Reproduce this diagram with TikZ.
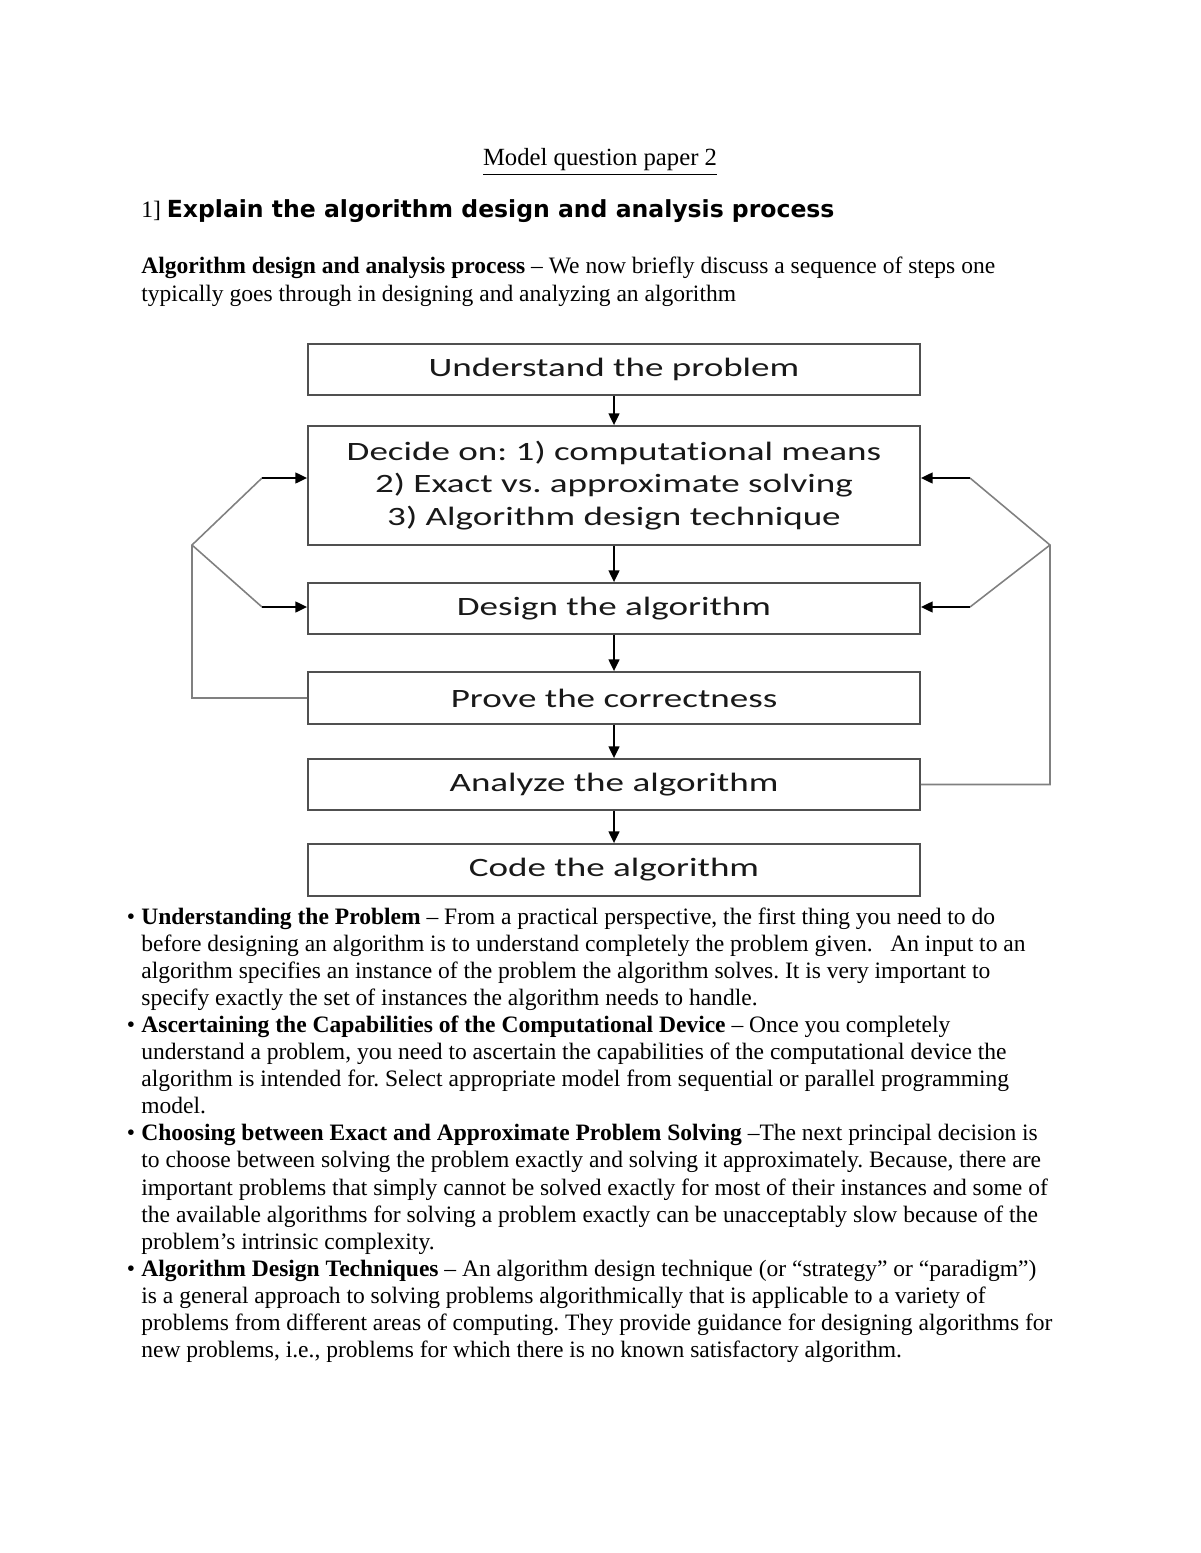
\documentclass[tikz,border=0pt]{standalone}
\usepackage{fontspec}
\setmainfont{Liberation Serif}
\newfontfamily\boxfont[FakeStretch=1.4,Ligatures=NoCommon]{Carlito}
\newfontfamily\headfont{DejaVu Sans}
\usetikzlibrary{arrows.meta}
\definecolor{boxgray}{HTML}{505050}
\newdimen\pxu \pxu=0.51pt
\frenchspacing

\begin{document}
\begin{tikzpicture}[x=0.51pt,y=-0.51pt,
  stepbox/.style={draw=boxgray, line width=0.9pt, minimum width=612\pxu, inner sep=0pt,
    font=\boxfont\fontsize{13.5pt}{16.6pt}\selectfont, text=black!90, align=center},
  flow/.style={line width=1pt, -{Triangle[length=6pt,width=5.5pt]}},
  loopline/.style={draw=gray, line width=0.8pt},
  body/.style={anchor=base west, inner sep=0pt, align=left, font=\fontsize{12pt}{13.82pt}\selectfont}]
\fill[white] (0,0) rectangle (1200,1553);
\useasboundingbox (0,0) rectangle (1200,1553);

% page text above the chart (multi-line nodes sit on their last baseline)
\node[anchor=base, inner sep=0pt, font=\fontsize{12.6pt}{13.82pt}\selectfont] (title) at (600,166) {\underline{Model question paper 2}};
\node[body] (question) at (141,218) {1] {\headfont\bfseries\fontsize{12pt}{14pt}\selectfont Explain the algorithm design and analysis process}};
\node[body] (intro) at (141,301) {\textbf{Algorithm design and analysis process} – We now briefly discuss a sequence of steps one\\
typically goes through in designing and analyzing an algorithm};

% the steps
\node[stepbox, minimum height=51\pxu] (understand) at (614,369.5) {Understand the problem};
\node[stepbox, minimum height=119\pxu] (decide) at (614,485.5) {Decide on: 1) computational means\\2) Exact vs. approximate solving\\3) Algorithm design technique};
\node[stepbox, minimum height=51\pxu] (design) at (614,608.5) {Design the algorithm};
\node[stepbox, minimum height=52\pxu] (prove) at (614,698) {Prove the correctness};
\node[stepbox, minimum height=51\pxu] (analyze) at (614,784.5) {Analyze the algorithm};
\node[stepbox, minimum height=52\pxu] (code) at (614,870) {Code the algorithm};

\draw[flow] (understand) -- (decide);
\draw[flow] (decide) -- (design);
\draw[flow] (design) -- (prove);
\draw[flow] (prove) -- (analyze);
\draw[flow] (analyze) -- (code);

% left feedback
\coordinate (ljoin) at (192,545);
\coordinate (lup) at (262,478);
\coordinate (llow) at (262,607);
\draw[loopline] (prove.west) -| (ljoin) -- (lup);
\draw[loopline] (ljoin) -- (llow);
\draw[flow] (lup) -- (lup -| decide.west);
\draw[flow] (llow) -- (llow -| design.west);

% right feedback
\coordinate (rjoin) at (1050,545);
\coordinate (rup) at (970,478);
\coordinate (rlow) at (970,607);
\draw[loopline] (analyze.east) -| (rjoin) -- (rup);
\draw[loopline] (rjoin) -- (rlow);
\draw[flow] (rup) -- (rup -| decide.east);
\draw[flow] (rlow) -- (rlow -| design.east);

% bullet list
\foreach \y [count=\i] in {924,1032.4,1140.8,1276.3}
  \node[anchor=base, inner sep=0pt, font=\fontsize{12pt}{13.82pt}\selectfont] (dot\i) at (131,\y) {•};
\node[body] (item1) at (141,1005.3) {\textbf{Understanding the Problem} – From a practical perspective, the first thing you need to do\\
before designing an algorithm is to understand completely the problem given.\ \ \ An input to an\\
algorithm specifies an instance of the problem the algorithm solves. It is very important to\\
specify exactly the set of instances the algorithm needs to handle.};
\node[body] (item2) at (141,1113.7) {\textbf{Ascertaining the Capabilities of the Computational Device} – Once you completely\\
understand a problem, you need to ascertain the capabilities of the computational device the\\
algorithm is intended for. Select appropriate model from sequential or parallel programming\\
model.};
\node[body] (item3) at (141,1249.2) {\textbf{Choosing between Exact and Approximate Problem Solving} –The next principal decision is\\
to choose between solving the problem exactly and solving it approximately. Because, there are\\
important problems that simply cannot be solved exactly for most of their instances and some of\\
the available algorithms for solving a problem exactly can be unacceptably slow because of the\\
problem’s intrinsic complexity.};
\node[body] (item4) at (141,1357.6) {\textbf{Algorithm Design Techniques} – An algorithm design technique (or “strategy” or “paradigm”)\\
is a general approach to solving problems algorithmically that is applicable to a variety of\\
problems from different areas of computing. They provide guidance for designing algorithms for\\
new problems, i.e., problems for which there is no known satisfactory algorithm.};
\end{tikzpicture}
\end{document}
